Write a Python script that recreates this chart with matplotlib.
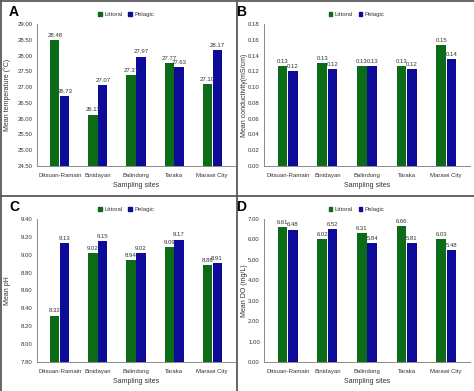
import matplotlib
matplotlib.use("Agg")
import matplotlib.pyplot as plt
import numpy as np
from matplotlib.lines import Line2D
from matplotlib.patches import Patch

plt.rcParams["font.family"] = ["Liberation Sans", "DejaVu Sans"]

sites = ["Ditsuan-Ramain", "Binidayan", "Balindong", "Taraka", "Marawi City"]

temp_littoral = [28.48, 26.13, 27.37, 27.77, 27.10]
temp_pelagic = [26.73, 27.07, 27.97, 27.63, 28.17]

cond_littoral = [0.127, 0.130, 0.127, 0.127, 0.153]
cond_pelagic = [0.120, 0.123, 0.127, 0.123, 0.136]

ph_littoral = [8.32, 9.02, 8.94, 9.09, 8.88]
ph_pelagic = [9.13, 9.15, 9.02, 9.17, 8.91]

do_littoral = [6.61, 6.02, 6.31, 6.66, 6.03]
do_pelagic = [6.48, 6.52, 5.84, 5.81, 5.48]

GREEN = "#0b6b16"
BLUE = "#0c0c98"
TXT = "#333333"
W, H = 474, 391


def px_axes(fig, left, top, right, bottom):
    return fig.add_axes([left / W, 1 - bottom / H, (right - left) / W, (bottom - top) / H])


def panel(fig, box, letter, litt, pel, ylabel, ylim, step, ylab_px):
    ax = px_axes(fig, *box)
    x = np.arange(len(sites))
    bw = 0.24
    ax.bar(x - 0.13, litt, bw, color=GREEN)
    ax.bar(x + 0.13, pel, bw, color=BLUE)
    ax.set_ylim(*ylim)
    ax.set_xlim(-0.6, 4.6)
    ax.set_yticks(np.arange(ylim[0], ylim[1] + step / 2, step))
    ax.yaxis.set_major_formatter(plt.FormatStrFormatter("%.2f"))
    ax.set_xticks(x)
    ax.set_xticklabels(sites)
    ax.tick_params(length=0, labelsize=4.3, colors=TXT, pad=3)
    ax.tick_params(axis="x", pad=5)
    for side in ["top", "right"]:
        ax.spines[side].set_visible(False)
    for side in ["left", "bottom"]:
        ax.spines[side].set_color("#8a8a8a")
        ax.spines[side].set_linewidth(0.7)
    ax.set_xlabel("Sampling sites", fontsize=5, color=TXT, labelpad=3)
    ax.set_ylabel(ylabel, fontsize=5, color=TXT)
    ax.yaxis.set_label_coords((ylab_px - box[0]) / (box[2] - box[0]), 0.5)
    off = (ylim[1] - ylim[0]) * 0.015
    for i in range(len(sites)):
        ax.text(x[i] - 0.13, litt[i] + off, f"{litt[i]:.2f}", ha="center", va="bottom",
                fontsize=4.3, color=TXT)
        ax.text(x[i] + 0.13, pel[i] + off, f"{pel[i]:.2f}", ha="center", va="bottom",
                fontsize=4.3, color=TXT)
    handles = [Patch(color=GREEN), Patch(color=BLUE)]
    leg = ax.legend(handles, ["Littoral", "Pelagic"], loc="lower center",
                    bbox_to_anchor=(0.45, 1.03), ncol=2, frameon=False, fontsize=4.3,
                    handlelength=0.6, handleheight=0.6, handletextpad=0.4,
                    columnspacing=1.0, borderaxespad=0)
    for t in leg.get_texts():
        t.set_color(TXT)
    l, t = box[0], box[1]
    fig.text((l - 28) / W, 1 - (t - 12) / H, letter, fontsize=10, fontweight="bold",
             ha="left", va="center")
    return ax


fig = plt.figure(figsize=(W / 100, H / 100), dpi=100)
fig.patch.set_facecolor("white")

panel(fig, (37, 24, 235, 166), "A", temp_littoral, temp_pelagic,
      "Mean temperature (°C)", (24.5, 29.0), 0.5, 11)
panel(fig, (264, 24, 470, 166), "B", cond_littoral, cond_pelagic,
      "Mean conductivity(mS/cm)", (0.0, 0.18), 0.02, 248)
panel(fig, (37, 219, 235, 362), "C", ph_littoral, ph_pelagic,
      "Mean pH", (7.8, 9.4), 0.2, 11)
panel(fig, (264, 219, 470, 362), "D", do_littoral, do_pelagic,
      "Mean DO (mg/L)", (0.0, 7.0), 1.0, 248)

# gray frame lines between panels
gray = "#5a5a5a"
for xs, ys in [([0, 1], [1 - 1 / H] * 2),
               ([0.5 / W] * 2, [0, 1]),
               ([237 / W] * 2, [0, 1]),
               ([0, 1], [1 - 196 / H] * 2)]:
    fig.add_artist(Line2D(xs, ys, color=gray, lw=1.3, transform=fig.transFigure))

fig.savefig("out.png", dpi=100)
